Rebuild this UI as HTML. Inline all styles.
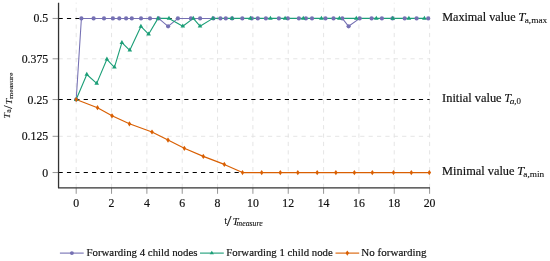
<!DOCTYPE html>
<html><head><meta charset="utf-8"><title>chart</title>
<style>
html,body{margin:0;padding:0;background:#fff;width:550px;height:261px;overflow:hidden;}
svg{display:block;}
text{font-family:"Liberation Serif",serif;fill:#111;stroke:#111;stroke-width:0.18px;}
.it{font-style:italic;}
.ns,.yl text{stroke-width:0.1px;}
</style></head>
<body>
<svg width="550" height="261" viewBox="0 0 550 261">
<g stroke="#e2e2e2" stroke-width="0.9" stroke-dasharray="4.19 4.19" fill="none">
<line x1="76.20" y1="187.95" x2="76.20" y2="2.7"/>
<line x1="111.54" y1="187.95" x2="111.54" y2="2.7"/>
<line x1="146.88" y1="187.95" x2="146.88" y2="2.7"/>
<line x1="182.22" y1="187.95" x2="182.22" y2="2.7"/>
<line x1="217.56" y1="187.95" x2="217.56" y2="2.7"/>
<line x1="252.90" y1="187.95" x2="252.90" y2="2.7"/>
<line x1="288.24" y1="187.95" x2="288.24" y2="2.7"/>
<line x1="323.58" y1="187.95" x2="323.58" y2="2.7"/>
<line x1="358.92" y1="187.95" x2="358.92" y2="2.7"/>
<line x1="394.26" y1="187.95" x2="394.26" y2="2.7"/>
<line x1="429.60" y1="187.95" x2="429.60" y2="2.7"/>
<line x1="58.55" y1="58.8" x2="429.6" y2="58.8"/>
<line x1="58.55" y1="136.3" x2="429.6" y2="136.3"/>
</g>
<g stroke="#8a8a8a" stroke-width="0.9">
<line x1="76.20" y1="187.95" x2="76.20" y2="193.8"/>
<line x1="111.54" y1="187.95" x2="111.54" y2="193.8"/>
<line x1="146.88" y1="187.95" x2="146.88" y2="193.8"/>
<line x1="182.22" y1="187.95" x2="182.22" y2="193.8"/>
<line x1="217.56" y1="187.95" x2="217.56" y2="193.8"/>
<line x1="252.90" y1="187.95" x2="252.90" y2="193.8"/>
<line x1="288.24" y1="187.95" x2="288.24" y2="193.8"/>
<line x1="323.58" y1="187.95" x2="323.58" y2="193.8"/>
<line x1="358.92" y1="187.95" x2="358.92" y2="193.8"/>
<line x1="394.26" y1="187.95" x2="394.26" y2="193.8"/>
<line x1="429.60" y1="187.95" x2="429.60" y2="193.8"/>
<line x1="52.6" y1="18.45" x2="58.55" y2="18.45"/>
<line x1="52.6" y1="58.8" x2="58.55" y2="58.8"/>
<line x1="52.6" y1="99.55" x2="58.55" y2="99.55"/>
<line x1="52.6" y1="136.3" x2="58.55" y2="136.3"/>
<line x1="52.6" y1="172.55" x2="58.55" y2="172.55"/>
</g>
<g stroke="#000" stroke-width="1.1" stroke-dasharray="4.19 4.19" fill="none">
<line x1="58.55" y1="18.45" x2="429.6" y2="18.45"/>
<line x1="58.55" y1="99.55" x2="429.6" y2="99.55"/>
<line x1="58.55" y1="172.55" x2="429.6" y2="172.55"/>
</g>
<polyline points="58.55,2.7 58.55,187.95 430.0,187.95" fill="none" stroke="#333" stroke-width="1.3" stroke-linejoin="round"/>
<polyline points="76.2,99.5 81.4,18.4 93.6,18.4 104.0,18.4 112.9,18.4 119.3,18.4 126.1,18.4 131.8,18.4 141.0,18.4 150.0,18.4 158.6,18.4 168.1,26.3 177.9,18.4 190.9,18.4 200.1,18.4 213.3,18.4 220.4,18.4 225.8,18.4 232.1,18.4 242.3,18.4 251.7,18.4 257.8,18.4 265.9,18.4 278.9,18.4 287.8,18.4 298.9,18.4 305.9,18.4 312.0,18.4 325.5,18.4 333.5,18.4 342.3,18.4 348.6,26.3 359.7,18.4 371.6,18.4 381.9,18.4 392.5,18.4 404.7,18.4 416.6,18.4 428.2,18.4" fill="none" stroke="#7570b3" stroke-width="1.05" stroke-linejoin="round"/>
<polyline points="76.2,99.5 86.8,74.5 96.7,83.4 106.9,59.3 114.4,67.3 121.9,42.6 129.8,50.3 140.9,26.4 148.6,34.2 158.0,18.4 169.0,18.4 182.8,26.2 193.3,18.4 200.0,26.2 212.9,18.4 232.1,18.4 250.4,18.4 270.4,18.4 285.1,18.4 303.3,18.4 321.4,18.4 339.4,18.4 356.3,18.4 376.3,18.4 392.8,18.4 408.9,18.4 424.4,18.4" fill="none" stroke="#1b9e77" stroke-width="1.1" stroke-linejoin="round"/>
<polyline points="76.2,99.5 97.5,107.7 112.0,115.8 129.4,123.8 152.0,132.0 168.0,140.1 184.3,148.3 203.3,156.4 224.3,164.4 242.5,172.6 261.7,172.6 280.3,172.6 297.8,172.6 317.2,172.6 335.9,172.6 354.4,172.6 372.3,172.6 393.5,172.6 411.3,172.6 429.3,172.6" fill="none" stroke="#d95f02" stroke-width="1.15" stroke-linejoin="round"/>
<g><circle cx="76.2" cy="99.5" r="2.1" fill="#7570b3"/><circle cx="81.4" cy="18.4" r="2.1" fill="#7570b3"/><circle cx="93.6" cy="18.4" r="2.1" fill="#7570b3"/><circle cx="104.0" cy="18.4" r="2.1" fill="#7570b3"/><circle cx="112.9" cy="18.4" r="2.1" fill="#7570b3"/><circle cx="119.3" cy="18.4" r="2.1" fill="#7570b3"/><circle cx="126.1" cy="18.4" r="2.1" fill="#7570b3"/><circle cx="131.8" cy="18.4" r="2.1" fill="#7570b3"/><circle cx="141.0" cy="18.4" r="2.1" fill="#7570b3"/><circle cx="150.0" cy="18.4" r="2.1" fill="#7570b3"/><circle cx="158.6" cy="18.4" r="2.1" fill="#7570b3"/><circle cx="168.1" cy="26.3" r="2.1" fill="#7570b3"/><circle cx="177.9" cy="18.4" r="2.1" fill="#7570b3"/><circle cx="190.9" cy="18.4" r="2.1" fill="#7570b3"/><circle cx="200.1" cy="18.4" r="2.1" fill="#7570b3"/><circle cx="213.3" cy="18.4" r="2.1" fill="#7570b3"/><circle cx="220.4" cy="18.4" r="2.1" fill="#7570b3"/><circle cx="225.8" cy="18.4" r="2.1" fill="#7570b3"/><circle cx="232.1" cy="18.4" r="2.1" fill="#7570b3"/><circle cx="242.3" cy="18.4" r="2.1" fill="#7570b3"/><circle cx="251.7" cy="18.4" r="2.1" fill="#7570b3"/><circle cx="257.8" cy="18.4" r="2.1" fill="#7570b3"/><circle cx="265.9" cy="18.4" r="2.1" fill="#7570b3"/><circle cx="278.9" cy="18.4" r="2.1" fill="#7570b3"/><circle cx="287.8" cy="18.4" r="2.1" fill="#7570b3"/><circle cx="298.9" cy="18.4" r="2.1" fill="#7570b3"/><circle cx="305.9" cy="18.4" r="2.1" fill="#7570b3"/><circle cx="312.0" cy="18.4" r="2.1" fill="#7570b3"/><circle cx="325.5" cy="18.4" r="2.1" fill="#7570b3"/><circle cx="333.5" cy="18.4" r="2.1" fill="#7570b3"/><circle cx="342.3" cy="18.4" r="2.1" fill="#7570b3"/><circle cx="348.6" cy="26.3" r="2.1" fill="#7570b3"/><circle cx="359.7" cy="18.4" r="2.1" fill="#7570b3"/><circle cx="371.6" cy="18.4" r="2.1" fill="#7570b3"/><circle cx="381.9" cy="18.4" r="2.1" fill="#7570b3"/><circle cx="392.5" cy="18.4" r="2.1" fill="#7570b3"/><circle cx="404.7" cy="18.4" r="2.1" fill="#7570b3"/><circle cx="416.6" cy="18.4" r="2.1" fill="#7570b3"/><circle cx="428.2" cy="18.4" r="2.1" fill="#7570b3"/></g>
<g><polygon points="76.2,96.8 78.5,100.9 73.9,100.9" fill="#1b9e77"/><polygon points="86.8,71.8 89.1,75.8 84.5,75.8" fill="#1b9e77"/><polygon points="96.7,80.7 99.0,84.8 94.4,84.8" fill="#1b9e77"/><polygon points="106.9,56.6 109.2,60.6 104.6,60.6" fill="#1b9e77"/><polygon points="114.4,64.6 116.7,68.6 112.1,68.6" fill="#1b9e77"/><polygon points="121.9,39.9 124.2,44.0 119.6,44.0" fill="#1b9e77"/><polygon points="129.8,47.6 132.1,51.6 127.5,51.6" fill="#1b9e77"/><polygon points="140.9,23.7 143.2,27.8 138.6,27.8" fill="#1b9e77"/><polygon points="148.6,31.5 150.9,35.6 146.3,35.6" fill="#1b9e77"/><polygon points="158.0,15.7 160.3,19.8 155.7,19.8" fill="#1b9e77"/><polygon points="169.0,15.7 171.3,19.8 166.7,19.8" fill="#1b9e77"/><polygon points="182.8,23.5 185.1,27.6 180.5,27.6" fill="#1b9e77"/><polygon points="193.3,15.7 195.6,19.8 191.0,19.8" fill="#1b9e77"/><polygon points="200.0,23.5 202.3,27.6 197.7,27.6" fill="#1b9e77"/><polygon points="212.9,15.7 215.2,19.8 210.6,19.8" fill="#1b9e77"/><polygon points="232.1,15.7 234.4,19.8 229.8,19.8" fill="#1b9e77"/><polygon points="250.4,15.7 252.7,19.8 248.1,19.8" fill="#1b9e77"/><polygon points="270.4,15.7 272.7,19.8 268.1,19.8" fill="#1b9e77"/><polygon points="285.1,15.7 287.4,19.8 282.8,19.8" fill="#1b9e77"/><polygon points="303.3,15.7 305.6,19.8 301.0,19.8" fill="#1b9e77"/><polygon points="321.4,15.7 323.7,19.8 319.1,19.8" fill="#1b9e77"/><polygon points="339.4,15.7 341.7,19.8 337.1,19.8" fill="#1b9e77"/><polygon points="356.3,15.7 358.6,19.8 354.0,19.8" fill="#1b9e77"/><polygon points="376.3,15.7 378.6,19.8 374.0,19.8" fill="#1b9e77"/><polygon points="392.8,15.7 395.1,19.8 390.5,19.8" fill="#1b9e77"/><polygon points="408.9,15.7 411.2,19.8 406.6,19.8" fill="#1b9e77"/><polygon points="424.4,15.7 426.7,19.8 422.1,19.8" fill="#1b9e77"/></g>
<g><polygon points="76.2,97.0 78.0,99.5 76.2,102.1 74.5,99.5" fill="#d95f02"/><polygon points="97.5,105.1 99.2,107.7 97.5,110.3 95.8,107.7" fill="#d95f02"/><polygon points="112.0,113.2 113.8,115.8 112.0,118.4 110.2,115.8" fill="#d95f02"/><polygon points="129.4,121.2 131.2,123.8 129.4,126.4 127.7,123.8" fill="#d95f02"/><polygon points="152.0,129.4 153.8,132.0 152.0,134.6 150.2,132.0" fill="#d95f02"/><polygon points="168.0,137.5 169.8,140.1 168.0,142.7 166.2,140.1" fill="#d95f02"/><polygon points="184.3,145.7 186.1,148.3 184.3,150.9 182.6,148.3" fill="#d95f02"/><polygon points="203.3,153.8 205.1,156.4 203.3,159.0 201.6,156.4" fill="#d95f02"/><polygon points="224.3,161.8 226.1,164.4 224.3,167.0 222.6,164.4" fill="#d95f02"/><polygon points="242.5,170.0 244.2,172.6 242.5,175.2 240.8,172.6" fill="#d95f02"/><polygon points="261.7,170.0 263.4,172.6 261.7,175.2 259.9,172.6" fill="#d95f02"/><polygon points="280.3,170.0 282.1,172.6 280.3,175.2 278.6,172.6" fill="#d95f02"/><polygon points="297.8,170.0 299.6,172.6 297.8,175.2 296.1,172.6" fill="#d95f02"/><polygon points="317.2,170.0 318.9,172.6 317.2,175.2 315.4,172.6" fill="#d95f02"/><polygon points="335.9,170.0 337.6,172.6 335.9,175.2 334.1,172.6" fill="#d95f02"/><polygon points="354.4,170.0 356.1,172.6 354.4,175.2 352.6,172.6" fill="#d95f02"/><polygon points="372.3,170.0 374.1,172.6 372.3,175.2 370.6,172.6" fill="#d95f02"/><polygon points="393.5,170.0 395.2,172.6 393.5,175.2 391.8,172.6" fill="#d95f02"/><polygon points="411.3,170.0 413.1,172.6 411.3,175.2 409.6,172.6" fill="#d95f02"/><polygon points="429.3,170.0 431.1,172.6 429.3,175.2 427.6,172.6" fill="#d95f02"/></g>
<text x="48.2" y="22.4" font-size="11.8" text-anchor="end">0.5</text>
<text x="48.2" y="62.8" font-size="11.8" text-anchor="end">0.375</text>
<text x="48.2" y="103.5" font-size="11.8" text-anchor="end">0.25</text>
<text x="48.2" y="140.3" font-size="11.8" text-anchor="end">0.125</text>
<text x="48.2" y="176.6" font-size="11.8" text-anchor="end">0</text>
<text x="76.20" y="206.9" font-size="11.8" text-anchor="middle">0</text>
<text x="111.54" y="206.9" font-size="11.8" text-anchor="middle">2</text>
<text x="146.88" y="206.9" font-size="11.8" text-anchor="middle">4</text>
<text x="182.22" y="206.9" font-size="11.8" text-anchor="middle">6</text>
<text x="217.56" y="206.9" font-size="11.8" text-anchor="middle">8</text>
<text x="252.90" y="206.9" font-size="11.8" text-anchor="middle">10</text>
<text x="288.24" y="206.9" font-size="11.8" text-anchor="middle">12</text>
<text x="323.58" y="206.9" font-size="11.8" text-anchor="middle">14</text>
<text x="358.92" y="206.9" font-size="11.8" text-anchor="middle">16</text>
<text x="394.26" y="206.9" font-size="11.8" text-anchor="middle">18</text>
<text x="429.60" y="206.9" font-size="11.8" text-anchor="middle">20</text>
<text x="224.61" y="223.5" font-size="10.0" textLength="2.44" lengthAdjust="spacingAndGlyphs">t</text>
<text x="226.80" y="225.7" font-size="14.0" textLength="4.70" lengthAdjust="spacingAndGlyphs">/</text>
<text x="232.49" y="224.8" font-size="10.4" font-style="italic" textLength="6.07" lengthAdjust="spacingAndGlyphs" class="ns">T</text>
<text x="236.52" y="226.0" font-size="8.0" font-style="italic" textLength="26.25" lengthAdjust="spacingAndGlyphs" class="ns">measure</text>
<g class="yl" transform="translate(11.2,120) rotate(-90)"><text x="1.56" y="-0.9" font-size="9.0" font-style="italic" textLength="5.46" lengthAdjust="spacingAndGlyphs">T</text><text x="7.33" y="0.2" font-size="7.2" textLength="3.37" lengthAdjust="spacingAndGlyphs">a</text><text x="11.10" y="1.2" font-size="12.4" textLength="3.70" lengthAdjust="spacingAndGlyphs">/</text><text x="15.62" y="0.6" font-size="9.0" font-style="italic" textLength="5.77" lengthAdjust="spacingAndGlyphs">T</text><text x="21.24" y="2.0" font-size="6.8" textLength="26.14" lengthAdjust="spacingAndGlyphs">measure</text></g>
<text x="442.15" y="20.6" font-size="11.7" textLength="73.47" lengthAdjust="spacingAndGlyphs">Maximal value</text>
<text x="518.36" y="20.6" font-size="11.7" font-style="italic" textLength="7.18" lengthAdjust="spacingAndGlyphs" class="ns">T</text>
<text x="524.67" y="22.6" font-size="8.6" textLength="22.54" lengthAdjust="spacingAndGlyphs" class="ns">a,max</text>
<text x="442.05" y="101.7" font-size="11.7" textLength="59.58" lengthAdjust="spacingAndGlyphs">Initial value</text>
<text x="504.39" y="101.7" font-size="11.7" font-style="italic" textLength="6.88" lengthAdjust="spacingAndGlyphs" class="ns">T</text>
<text x="509.82" y="103.7" font-size="8.6" font-style="italic" textLength="4.74" lengthAdjust="spacingAndGlyphs" class="ns">a</text>
<text x="514.26" y="103.7" font-size="8.6" textLength="6.68" lengthAdjust="spacingAndGlyphs" class="ns">,0</text>
<text x="442.14" y="175.0" font-size="11.7" textLength="72.38" lengthAdjust="spacingAndGlyphs">Minimal value</text>
<text x="517.04" y="175.0" font-size="11.7" font-style="italic" textLength="7.28" lengthAdjust="spacingAndGlyphs" class="ns">T</text>
<text x="523.37" y="177.1" font-size="8.6" textLength="20.87" lengthAdjust="spacingAndGlyphs" class="ns">a,min</text>
<line x1="59.9" y1="253.1" x2="83.7" y2="253.1" stroke="#7570b3" stroke-width="1.1"/><circle cx="71.9" cy="253.1" r="1.95" fill="#7570b3"/>
<text x="86.49" y="255.8" font-size="10.5" textLength="111.00" lengthAdjust="spacingAndGlyphs">Forwarding 4 child nodes</text>
<line x1="200.0" y1="253.1" x2="223.8" y2="253.1" stroke="#1b9e77" stroke-width="1.1"/><polygon points="211.8,250.7 213.9,254.3 209.7,254.3" fill="#1b9e77"/>
<text x="226.39" y="255.8" font-size="10.5" textLength="106.38" lengthAdjust="spacingAndGlyphs">Forwarding 1 child node</text>
<line x1="335.5" y1="253.1" x2="359.2" y2="253.1" stroke="#d95f02" stroke-width="1.1"/><polygon points="347.3,250.5 349.1,253.1 347.3,255.7 345.6,253.1" fill="#d95f02"/>
<text x="361.38" y="255.8" font-size="10.5" textLength="65.23" lengthAdjust="spacingAndGlyphs">No forwarding</text>
</svg>
</body></html>
